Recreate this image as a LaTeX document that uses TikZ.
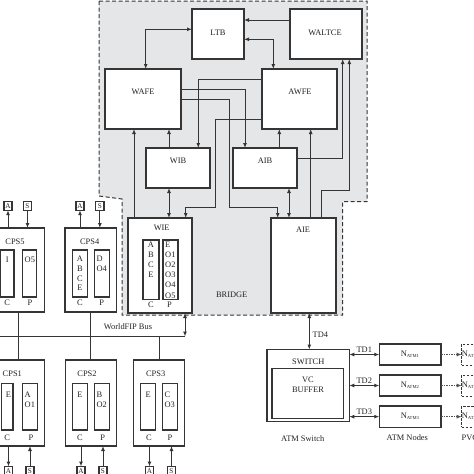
\documentclass[tikz,border=0pt]{standalone}
\usepackage{fontspec}
\setmainfont{Liberation Serif}
\usetikzlibrary{arrows.meta,calc}
\definecolor{lc}{HTML}{353535}
\definecolor{bg}{HTML}{E4E6E8}
\definecolor{tc}{HTML}{222222}
\newcommand\mkbox[6][]{%
  \pgfmathsetmacro\mkbW{#5-#3}\pgfmathsetmacro\mkbH{#6-#4}%
  \node[bx,#1, minimum width=\mkbW pt, minimum height=\mkbH pt] (#2) at (#3,#4) {};}
\tikzset{
  bx/.style={draw=lc, line width=1.4pt, fill=white, inner sep=0pt, outer sep=0pt, anchor=north west},
  cb/.style={line width=1.15pt},
  dsh/.style={dash pattern=on 2.5pt off 1.5pt, line width=1pt},
  lbl/.style={font=\fontsize{8.4}{10}\selectfont, text=tc, inner sep=0pt},
  sml/.style={font=\fontsize{7.2}{8}\selectfont, text=tc, inner sep=0pt},
  tip/.tip={Latex[length=5pt,width=4pt]},
  ar/.style={draw=lc, line width=1pt, -tip},
  dar/.style={draw=lc, line width=1pt, tip-tip},
  dshar/.style={draw=lc!85, line width=1pt, dash pattern=on 1.5pt off 1pt, -tip},
  ln/.style={draw=lc, line width=1pt},
}
\begin{document}
\begin{tikzpicture}[x=1pt,y=-1pt]
\useasboundingbox (0,0) rectangle (474,474);
% bridge region
\draw[lc, line width=1pt, dash pattern=on 4pt off 2.5pt, fill=bg]
  (99,1) -- (367,1) -- (367,201.5) -- (342.5,201.5) -- (342.5,315) -- (122,315) -- (122,199) -- (99,196) -- cycle;

% bridge boxes
\mkbox{LTB}{192}{9}{244}{59}
\mkbox{WALTCE}{290}{9}{362}{59}
\mkbox{WAFE}{105}{69}{181}{129}
\mkbox{AWFE}{262}{69}{337}{129}
\mkbox{WIB}{146}{148}{210}{188}
\mkbox{AIB}{233}{148}{297}{188}
\mkbox{WIE}{128}{218}{192}{313}
\mkbox{AIE}{271}{218}{336}{313}
\mkbox[cb]{WIEc}{143}{240}{159}{299.5}
\mkbox[cb]{WIEp}{163}{240}{178}{299.5}

\node[lbl] (tLTB) at (218,33) {LTB};
\node[lbl] (tWALTCE) at (325,33) {WALTCE};
\node[lbl] (tWAFE) at (143,92) {WAFE};
\node[lbl] (tAWFE) at (300,92) {AWFE};
\node[lbl] (tWIB) at (178,161) {WIB};
\node[lbl] (tAIB) at (265,161) {AIB};
\node[lbl] (tWIE) at (161.7,227.5) {WIE};
\node[lbl] (tAIE) at (303,230) {AIE};
\node[lbl] (tBR) at (231.7,295) {BRIDGE};
\foreach \t [count=\i] in {A,B,C,E}
  \node[lbl, anchor=base] (wiec\i) at (151,{247.1+(\i-1)*10.2}) {\t};
\foreach \t [count=\i] in {E,O1,O2,O3,O4,O5}
  \node[lbl, anchor=base west] (wiep\i) at (165,{247.1+(\i-1)*10.2}) {\t};
\node[lbl] (wieC) at (151,304.8) {C};
\node[lbl] (wieP) at (169.5,304.8) {P};

% bridge connectors
\draw[dar] (LTB.west |- 0,29.3) -| (WAFE.north -| 145.7,0);
\draw[ar] (WALTCE.west |- 0,20) -- (LTB.east |- 0,20);
\draw[dar] (LTB.east |- 0,39.3) -| (AWFE.north -| 273.3,0);
\draw[ar] (AIB.east |- 0,158.3) -| (WALTCE.south -| 342.7,0);
\draw[ar] (AIE.north -| 321,0) |- (349.3,190) -- (WALTCE.south -| 349.3,0);
\draw[ar] (WAFE.east |- 0,89.3) -| (AIB.north -| 245,0);
\draw[ar] (WAFE.east |- 0,99.3) -| (229,207.3) -| (AIE.north -| 277.7,0);
\draw[ar] (AWFE.west |- 0,79.3) -| (WIB.north -| 198.3,0);
\draw[ar] (AWFE.west |- 0,119.3) -| (215.7,207.3) -| (WIE.north -| 185.7,0);
\draw[ar] (WIE.north -| 134,0) -- (WAFE.south -| 134,0);
\draw[ar] (WIB.north -| 169,0) -- (WAFE.south -| 169,0);
\draw[dar] (WIB.south -| 169,0) -- (WIE.north -| 169,0);
\draw[ar] (AIB.north -| 279.3,0) -- (AWFE.south -| 279.3,0);
\draw[ar] (AIE.north -| 310.7,0) -- (AWFE.south -| 310.7,0);
\draw[dar] (AIB.south -| 289,0) -- (AIE.north -| 289,0);

% CPS boxes
\mkbox{CPS5}{-7}{228}{44.3}{312}
\mkbox[cb]{CPS5c}{0.5}{250}{14}{297}
\mkbox[cb]{CPS5p}{22.7}{250}{36.7}{297}
\mkbox{CPS4}{65}{228}{116.7}{312}
\mkbox[cb]{CPS4c}{72.7}{250}{87.3}{297}
\mkbox[cb]{CPS4p}{94.3}{250}{109.3}{297}
\mkbox{CPS1}{-5}{360}{44.3}{446}
\mkbox[cb]{CPS1c}{1.5}{383.3}{13}{430}
\mkbox[cb]{CPS1p}{22.3}{383.3}{37.3}{430}
\mkbox{CPS2}{65.7}{360}{116.7}{446}
\mkbox[cb]{CPS2c}{72.7}{383.3}{87.3}{430}
\mkbox[cb]{CPS2p}{94.3}{383.3}{109.3}{430}
\mkbox{CPS3}{133.3}{360}{184.3}{446}
\mkbox[cb]{CPS3c}{140.7}{383.3}{155.7}{430}
\mkbox[cb]{CPS3p}{162.3}{383.3}{177.3}{430}

\node[lbl] (tCPS5) at (15,242) {CPS5};
\node[lbl] (tCPS4) at (89.7,242) {CPS4};
\node[lbl] (tCPS1) at (12.3,373.5) {CPS1};
\node[lbl] (tCPS2) at (87,373.5) {CPS2};
\node[lbl] (tCPS3) at (155.7,373.5) {CPS3};

\node[lbl, anchor=base] (c5a) at (7.3,262.8) {I};
\node[lbl, anchor=base west] (p5a) at (24.5,262.8) {O5};
\foreach \t [count=\i] in {A,B,C,E}
  \node[lbl, anchor=base] (c4\i) at (80,{261.8+(\i-1)*9.7}) {\t};
\foreach \t [count=\i] in {D,O4}
  \node[lbl, anchor=base west] (p4\i) at (96.3,{261.8+(\i-1)*9.7}) {\t};
\node[lbl, anchor=base] (c1a) at (8.5,397.8) {E};
\node[lbl, anchor=base west] (p1a) at (24.5,397.8) {A};
\node[lbl, anchor=base west] (p1b) at (24.5,407.8) {O1};
\node[lbl, anchor=base] (c2a) at (80,397.8) {E};
\node[lbl, anchor=base west] (p2a) at (96.3,397.8) {B};
\node[lbl, anchor=base west] (p2b) at (96.3,407.8) {O2};
\node[lbl, anchor=base] (c3a) at (148.2,397.8) {E};
\node[lbl, anchor=base west] (p3a) at (164.3,397.8) {C};
\node[lbl, anchor=base west] (p3b) at (164.3,407.8) {O3};

\foreach \n/\cx/\px/\y in {5/7.3/30/303, 4/80/101.8/303, 1/7.3/31/437.3, 2/80/102.8/437.3, 3/149/170/437.3}{
  \node[lbl] (cl\n) at (\cx,\y) {C};
  \node[lbl] (pl\n) at (\px,\y) {P};
}

% A / S boxes
\mkbox[cb]{A5}{4}{201.7}{12}{210.2}
\mkbox[cb]{S5}{23.3}{201.7}{31.7}{210.2}
\mkbox[cb]{A4}{76}{201.7}{84}{210.2}
\mkbox[cb]{S4}{95.7}{201.7}{104}{210.2}
\mkbox[cb]{A1}{4.5}{466.5}{12.5}{475}
\mkbox[cb]{S1}{26}{466.5}{34}{475}
\mkbox[cb]{A2}{77}{466.5}{85}{475}
\mkbox[cb]{S2}{99}{466.5}{107}{475}
\mkbox[cb]{A3}{145.5}{466.5}{153.5}{475}
\mkbox[cb]{S3}{167.5}{466.5}{175.5}{475}
\foreach \b/\t in {A5/A,S5/S,A4/A,S4/S,A1/A,S1/S,A2/A,S2/S,A3/A,S3/S}
  \node[sml] (t\b) at (\b) {\t};

\draw[ar] (CPS5.north -| A5) -- (A5.south);
\draw[ar] (S5.south) -- (CPS5.north -| S5);
\draw[ar] (CPS4.north -| A4) -- (A4.south);
\draw[ar] (S4.south) -- (CPS4.north -| S4);
\draw[ar] (CPS1.south -| A1) -- (A1.north);
\draw[ar] (S1.north) -- (CPS1.south -| S1);
\draw[ar] (CPS2.south -| A2) -- (A2.north);
\draw[ar] (S2.north) -- (CPS2.south -| S2);
\draw[ar] (CPS3.south -| A3) -- (A3.north);
\draw[ar] (S3.north) -- (CPS3.south -| S3);

% WorldFIP bus
\coordinate (busL) at (-2,336.5);
\coordinate (busR) at (185,336.5);
\draw[ln] (busL) -- (busR);
\draw[ln] (CPS5.south -| 18.3,0) -- (busL -| 18.3,0);
\draw[ln] (CPS4.south -| 90,0) -- (busL -| 90,0);
\draw[ln] (CPS1.north -| 18.3,0) -- (busL -| 18.3,0);
\draw[ln] (CPS2.north -| 90,0) -- (busL -| 90,0);
\draw[ln] (CPS3.north -| 159.3,0) -- (busL -| 159.3,0);
\draw[dar] (WIE.south -| busR) -- (busR);
\node[lbl] (tBus) at (128,327) {WorldFIP Bus};

% ATM switch
\mkbox{SW}{267}{349.5}{349.3}{421.7}
\mkbox[cb]{VCB}{272}{368.3}{343.3}{418.3}
\node[lbl] (tSW) at (308.3,362) {SWITCH};
\node[lbl, align=center] (tVC) at (308,385) {VC\\BUFFER};
\node[lbl] (tATMS) at (302.7,438.5) {ATM Switch};
\draw[dar] (AIE.south -| 309.3,0) -- (SW.north -| 309.3,0);
\node[lbl, anchor=west] (tTD4) at (312.5,334.5) {TD4};

% ATM nodes
\mkbox{N1}{379.3}{344}{441}{365}
\mkbox{N2}{379.3}{375}{441}{396}
\mkbox{N3}{379.3}{406}{441}{427.3}
\mkbox[dsh]{D1}{461.7}{344}{495}{365}
\mkbox[dsh]{D2}{461.7}{375}{495}{396}
\mkbox[dsh]{D3}{461.7}{406}{495}{427.3}
\foreach \i in {1,2,3}{
  \node[lbl] (tN\i) at (N\i) {N\textsubscript{\fontsize{4.6}{5}\selectfont ATM\i}};
  \node[lbl, anchor=west] (tD\i) at (D\i.west) {N\textsubscript{\fontsize{4.6}{5}\selectfont ATM\i}};
  \draw[dar] (SW.east |- N\i.west) -- (N\i.west);
  \node[lbl] (tTD\i) at ($(SW.east |- N\i.west)!0.5!(N\i.west) + (0,-5)$) {TD\i};
  \draw[dshar] (N\i.east) -- (D\i.west);
}
\node[lbl] (tATMN) at (407.3,437.5) {ATM Nodes};
\node[lbl, anchor=west] (tPV) at (461.5,437.5) {PVC Nodes};
\end{tikzpicture}
\end{document}
